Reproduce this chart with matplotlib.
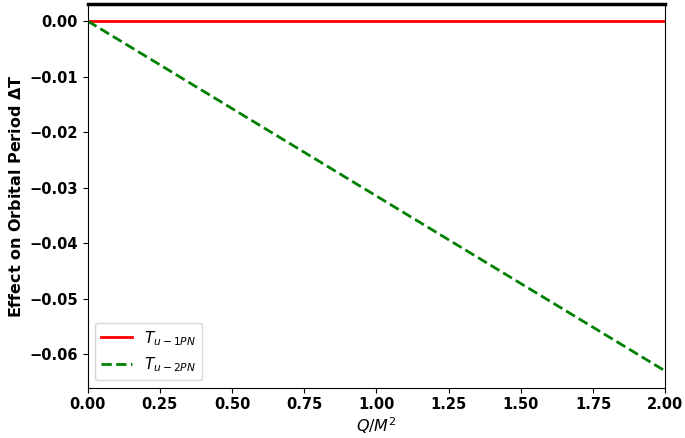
import matplotlib.pyplot as plt

q = [0.0, 2.0]
t_1pn = [0.0, 0.0]
t_2pn = [0.0, -0.063]

fig = plt.figure(figsize=(6.85, 4.38), dpi=100)
ax = fig.add_axes([0.128, 0.115, 0.843, 0.875])
ax.plot(q, t_1pn, color='red', lw=2, label=r'$T_{u-1PN}$')
ax.plot(q, t_2pn, color='green', lw=2, ls='--', label=r'$T_{u-2PN}$')
ax.set_xlim(0, 2)
ax.set_ylim(-0.066, 0.003)
ax.set_xticks([0, 0.25, 0.5, 0.75, 1.0, 1.25, 1.5, 1.75, 2.0])
ax.set_yticks([0.0, -0.01, -0.02, -0.03, -0.04, -0.05, -0.06])
for lab in ax.get_xticklabels() + ax.get_yticklabels():
    lab.set_fontweight('bold')
ax.tick_params(labelsize=10.5)
ax.set_xlabel(r'$Q/M^2$', fontsize=11.5, fontweight='bold', labelpad=2)
ax.set_ylabel(r'Effect on Orbital Period $\mathbf{\Delta T}$', fontsize=11.5, fontweight='bold')
ax.spines['top'].set_linewidth(2.5)
ax.legend(loc='lower left', fontsize=11)
fig.savefig('out.png')
